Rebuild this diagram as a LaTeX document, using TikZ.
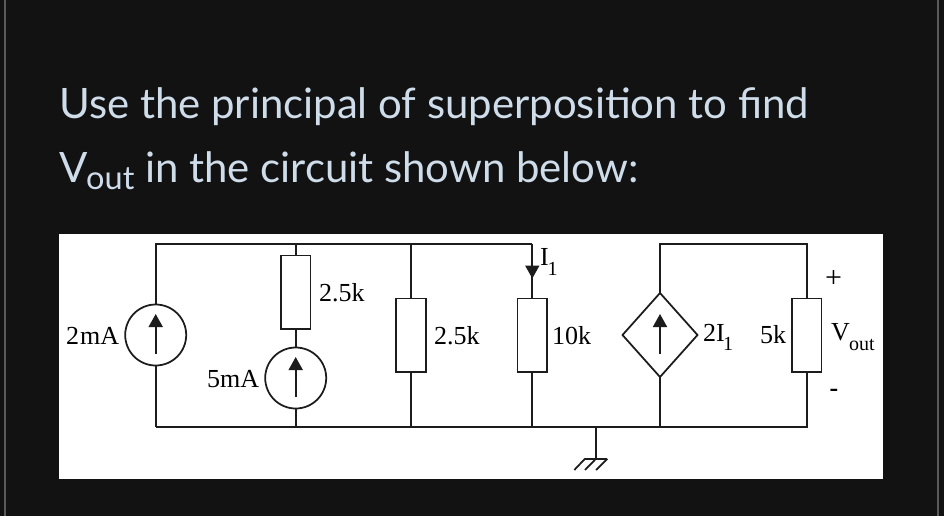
\documentclass[tikz,border=0pt]{standalone}
\usepackage{fontspec}
\setmainfont{Liberation Serif}
\newfontfamily\headfont{Lato}
\usetikzlibrary{shapes.geometric,arrows.meta}
\definecolor{pagebg}{HTML}{121212}
\definecolor{edgegray}{HTML}{5A5A5A}
\definecolor{headcol}{HTML}{CFDDEB}
\definecolor{wirecol}{HTML}{1C1C1C}
\tikzset{
 x=1pt,y=-1pt,
 wire/.style={draw=wirecol,line width=1.75pt},
 res/.style={draw=wirecol,line width=1.75pt,fill=white,minimum width=29.5pt,minimum height=73.5pt,inner sep=0pt,outer sep=0pt},
 src/.style={circle,draw=wirecol,line width=1.75pt,fill=white,minimum size=61pt,inner sep=0pt,outer sep=0pt},
 dep/.style={diamond,draw=wirecol,line width=1.75pt,fill=white,minimum width=75pt,minimum height=84pt,inner sep=0pt,outer sep=0pt},
 lab/.style={font=\fontsize{26}{26}\selectfont,text=black,inner sep=0pt,anchor=base west},
 sublab/.style={font=\fontsize{20}{20}\selectfont,text=black,inner sep=0pt,anchor=base west},
 head/.style={font=\fontsize{41.9}{42}\selectfont\headfont,text=headcol,inner sep=0pt,anchor=base west},
 headsub/.style={font=\fontsize{32.5}{33}\selectfont\headfont,text=headcol,inner sep=0pt,anchor=base west},
 tip/.style={-{Triangle[length=13pt,width=14pt]},draw=wirecol,line width=1.75pt},
}
\begin{document}
\begin{tikzpicture}
\useasboundingbox (0,0) rectangle (944,516);
\fill[pagebg] (0,0) rectangle (944,516);
\fill[edgegray] (4,0) rectangle (6,516);
\fill[edgegray] (937,0) rectangle (939,516);
\fill[white] (59,234) rectangle (883,479);
\node[head] (h1) at (59,119) {Use the principal of superposition to find};
\node[head] (h2) at (59,182) {V};
\node[headsub] (h2s) at (86,189) {out};
\node[head] (h3) at (145,182) {in the circuit shown below:};
% wire corners
\coordinate (tl) at (155.7,244);
\coordinate (bl) at (155.7,427);
\coordinate (t5) at (295.7,244);
\coordinate (b5) at (295.7,427);
\coordinate (ta) at (411,244);
\coordinate (ba) at (411,427);
\coordinate (tb) at (532.3,244);
\coordinate (bb) at (532.3,427);
\coordinate (td) at (660,244);
\coordinate (bd) at (660,427);
\coordinate (tr) at (806.7,244);
\coordinate (br) at (806.7,427);
\coordinate (gt) at (596,427);
\coordinate (gb) at (596,458.7);
\draw[wire,line join=miter] (bl) -- (br) -- (tr) -- (td) -- (bd);
\draw[wire,line join=miter] (tb) -- (tl) -- (bl);
\draw[wire] (t5) -- (b5);
\draw[wire] (ta) -- (ba);
\draw[wire] (tb) -- (bb);
\draw[wire] (gt) -- (gb);
% ground
\coordinate (g1) at (585,458.7);
\coordinate (g3) at (607.3,458.7);
\coordinate (g1b) at (574.3,470);
\coordinate (g2b) at (585,470);
\coordinate (g3b) at (596,470);
\draw[wire] (g1) -- (g3);
\draw[wire] (g1) -- (g1b);
\draw[wire] (gb) -- (g2b);
\draw[wire] (g3) -- (g3b);
% components
\node[src] (s2) at (155.7,335) {};
\node[src] (s5) at (295.7,378) {};
\node[res] (r1) at (295.7,292.2) {};
\node[res] (r2) at (411,335.3) {};
\node[res] (r3) at (532.3,335.3) {};
\node[res] (r5) at (806.7,335.3) {};
\node[dep] (d) at (660,335) {};
% source arrows
\coordinate (s2a) at (155.7,354);
\coordinate (s2b) at (155.7,314);
\coordinate (s5a) at (295.7,397);
\coordinate (s5b) at (295.7,357);
\coordinate (da) at (660,354);
\coordinate (db) at (660,314);
\draw[tip] (s2a) -- (s2b);
\draw[tip] (s5a) -- (s5b);
\draw[tip] (da) -- (db);
\coordinate (ia) at (532.3,260);
\coordinate (ib) at (532.3,278.5);
\draw[tip] (ia) -- (ib);
% labels
\node[lab] (l2) at (66,344) {2\kern1pt mA};
\node[lab] (l5) at (207,387) {5mA};
\node[lab] (lr1) at (319,301) {2.5k};
\node[lab] (lr2) at (434,344) {2.5k};
\node[lab] (lr3) at (552,344) {10k};
\node[lab] (li) at (540,265) {I};
\node[sublab] (lis) at (547.5,275) {1};
\node[lab] (ld) at (703,341) {2I};
\node[sublab] (lds) at (723,350) {1};
\node[lab] (l5k) at (760,343) {5k};
\node[lab,font=\fontsize{30}{30}\selectfont] (lp) at (825,287.5) {+};
\node[lab] (lv) at (831,340) {V};
\node[sublab] (lvs) at (849,350) {out};
\node[lab,font=\fontsize{26}{26}\bfseries\selectfont] (lm) at (829.5,396) {-};
\end{tikzpicture}
\end{document}
